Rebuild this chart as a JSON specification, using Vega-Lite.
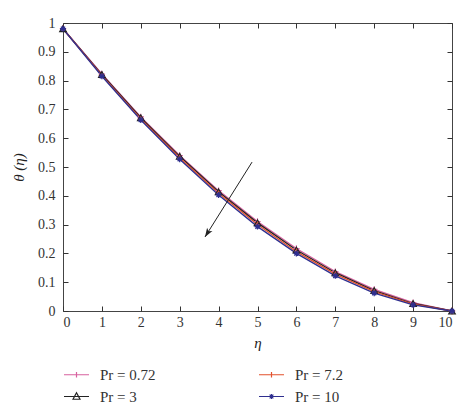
{
  "$schema": "https://vega.github.io/schema/vega-lite/v6.json",
  "autosize": "none",
  "width": 389,
  "height": 288,
  "padding": {"left": 63, "top": 23, "right": 22, "bottom": 106},
  "background": "white",
  "config": {
    "view": {"stroke": "#444444", "strokeWidth": 1},
    "axis": {
      "labelFont": "Liberation Serif",
      "labelFontSize": 14,
      "labelColor": "#333333",
      "titleFont": "Liberation Serif",
      "titleFontSize": 15,
      "titleFontWeight": "normal",
      "titleFontStyle": "italic",
      "titleColor": "#222222",
      "grid": false
    }
  },
  "datasets": {
    "curves": [
      {"eta": 0, "theta": 0.98, "Pr": "0.72"},
      {"eta": 1, "theta": 0.823, "Pr": "0.72"},
      {"eta": 2, "theta": 0.674, "Pr": "0.72"},
      {"eta": 3, "theta": 0.540, "Pr": "0.72"},
      {"eta": 4, "theta": 0.418, "Pr": "0.72"},
      {"eta": 5, "theta": 0.311, "Pr": "0.72"},
      {"eta": 6, "theta": 0.217, "Pr": "0.72"},
      {"eta": 7, "theta": 0.137, "Pr": "0.72"},
      {"eta": 8, "theta": 0.075, "Pr": "0.72"},
      {"eta": 9, "theta": 0.029, "Pr": "0.72"},
      {"eta": 10, "theta": 0.0, "Pr": "0.72"},
      {"eta": 0, "theta": 0.98, "Pr": "3"},
      {"eta": 1, "theta": 0.821, "Pr": "3"},
      {"eta": 2, "theta": 0.671, "Pr": "3"},
      {"eta": 3, "theta": 0.537, "Pr": "3"},
      {"eta": 4, "theta": 0.414, "Pr": "3"},
      {"eta": 5, "theta": 0.306, "Pr": "3"},
      {"eta": 6, "theta": 0.212, "Pr": "3"},
      {"eta": 7, "theta": 0.133, "Pr": "3"},
      {"eta": 8, "theta": 0.071, "Pr": "3"},
      {"eta": 9, "theta": 0.026, "Pr": "3"},
      {"eta": 10, "theta": 0.0, "Pr": "3"},
      {"eta": 0, "theta": 0.98, "Pr": "7.2"},
      {"eta": 1, "theta": 0.818, "Pr": "7.2"},
      {"eta": 2, "theta": 0.667, "Pr": "7.2"},
      {"eta": 3, "theta": 0.532, "Pr": "7.2"},
      {"eta": 4, "theta": 0.409, "Pr": "7.2"},
      {"eta": 5, "theta": 0.300, "Pr": "7.2"},
      {"eta": 6, "theta": 0.206, "Pr": "7.2"},
      {"eta": 7, "theta": 0.128, "Pr": "7.2"},
      {"eta": 8, "theta": 0.067, "Pr": "7.2"},
      {"eta": 9, "theta": 0.024, "Pr": "7.2"},
      {"eta": 10, "theta": 0.0, "Pr": "7.2"},
      {"eta": 0, "theta": 0.98, "Pr": "10"},
      {"eta": 1, "theta": 0.815, "Pr": "10"},
      {"eta": 2, "theta": 0.663, "Pr": "10"},
      {"eta": 3, "theta": 0.527, "Pr": "10"},
      {"eta": 4, "theta": 0.403, "Pr": "10"},
      {"eta": 5, "theta": 0.293, "Pr": "10"},
      {"eta": 6, "theta": 0.200, "Pr": "10"},
      {"eta": 7, "theta": 0.122, "Pr": "10"},
      {"eta": 8, "theta": 0.062, "Pr": "10"},
      {"eta": 9, "theta": 0.021, "Pr": "10"},
      {"eta": 10, "theta": 0.0, "Pr": "10"}
    ],
    "arrow": [
      {"x1": 4.86, "y1": 0.517, "x2": 3.65, "y2": 0.257}
    ]
  },
  "layer": [
    {
      "data": {"name": "curves"},
      "mark": {"type": "line", "strokeWidth": 1.3},
      "encoding": {
        "x": {
          "field": "eta", "type": "quantitative",
          "scale": {"domain": [0, 10], "nice": false},
          "axis": {"orient": "bottom", "title": "η", "values": [0,1,2,3,4,5,6,7,8,9,10], "domain": false, "ticks": true, "tickSize": 5, "tickWidth": 1, "tickColor": "#333333", "offset": -5, "labelPadding": 4, "titlePadding": 6}
        },
        "y": {
          "field": "theta", "type": "quantitative",
          "scale": {"domain": [0, 1], "nice": false},
          "axis": {"orient": "left", "title": "θ (η)", "values": [0,0.1,0.2,0.3,0.4,0.5,0.6,0.7,0.8,0.9,1], "format": "~g", "domain": false, "ticks": true, "tickSize": 5, "tickWidth": 1, "tickColor": "#333333", "offset": -5, "labelPadding": 8, "titlePadding": 11}
        },
        "color": {
          "field": "Pr", "type": "nominal",
          "scale": {"domain": ["0.72", "3", "7.2", "10"], "range": ["#d8619f", "#222222", "#e2512d", "#2f2f8f"]},
          "legend": {
            "orient": "none",
            "legendX": 0,
            "legendY": 338,
            "columns": 2,
            "title": null,
            "columnPadding": 100,
            "rowPadding": -2,
            "padding": 0,
            "symbolSize": 625,
            "symbolStrokeWidth": 1.2,
            "symbolOpacity": 1,
            "labelFont": "Liberation Serif",
            "labelFontSize": 15,
            "labelColor": "#333333",
            "labelOffset": 10,
            "labelExpr": "'Pr = ' + datum.label"
          }
        }
      }
    },
    {
      "data": {"name": "curves"},
      "transform": [{"filter": "datum.Pr == '0.72'"}],
      "mark": {"type": "point", "filled": false, "strokeWidth": 1.1, "opacity": 1, "shape": "M-1,0H1M0,-1V1", "size": 40, "color": "#d8619f"},
      "encoding": {
        "x": {
          "field": "eta", "type": "quantitative",
          "scale": {"domain": [0, 10], "nice": false},
          "axis": {"orient": "top", "title": null, "labels": false, "values": [0,1,2,3,4,5,6,7,8,9,10], "domain": false, "ticks": true, "tickSize": 5, "tickWidth": 1, "tickColor": "#333333", "offset": -5}
        },
        "y": {
          "field": "theta", "type": "quantitative",
          "scale": {"domain": [0, 1], "nice": false},
          "axis": {"orient": "right", "title": null, "labels": false, "values": [0,0.1,0.2,0.3,0.4,0.5,0.6,0.7,0.8,0.9,1], "domain": false, "ticks": true, "tickSize": 5, "tickWidth": 1, "tickColor": "#333333", "offset": -5}
        }
      }
    },
    {
      "data": {"name": "curves"},
      "transform": [{"filter": "datum.Pr == '7.2'"}],
      "mark": {"type": "point", "filled": false, "strokeWidth": 1.1, "opacity": 1, "shape": "M-1,0H1M0,-1V1", "size": 40, "color": "#e2512d"},
      "encoding": {
        "x": {"field": "eta", "type": "quantitative", "scale": {"domain": [0, 10], "nice": false}, "axis": null},
        "y": {"field": "theta", "type": "quantitative", "scale": {"domain": [0, 1], "nice": false}, "axis": null}
      }
    },
    {
      "data": {"name": "curves"},
      "transform": [{"filter": "datum.Pr == '3'"}],
      "mark": {"type": "point", "filled": false, "strokeWidth": 1.1, "opacity": 1, "shape": "triangle-up", "size": 45, "color": "#222222"},
      "encoding": {
        "x": {"field": "eta", "type": "quantitative", "scale": {"domain": [0, 10], "nice": false}, "axis": null},
        "y": {"field": "theta", "type": "quantitative", "scale": {"domain": [0, 1], "nice": false}, "axis": null}
      }
    },
    {
      "data": {"name": "curves"},
      "transform": [{"filter": "datum.Pr == '10'"}],
      "mark": {"type": "point", "filled": false, "strokeWidth": 1.3, "opacity": 1, "shape": "M-1,0H1M0,-1V1M-0.7,-0.7L0.7,0.7M-0.7,0.7L0.7,-0.7", "size": 36, "color": "#2f2f8f"},
      "encoding": {
        "x": {"field": "eta", "type": "quantitative", "scale": {"domain": [0, 10], "nice": false}, "axis": null},
        "y": {"field": "theta", "type": "quantitative", "scale": {"domain": [0, 1], "nice": false}, "axis": null}
      }
    },
    {
      "data": {"name": "curves"},
      "transform": [{"filter": "datum.eta == 10"}],
      "mark": {"type": "point", "filled": false, "strokeWidth": 1.2, "opacity": 0},
      "encoding": {
        "x": {"field": "eta", "type": "quantitative", "scale": {"domain": [0, 10], "nice": false}, "axis": null},
        "y": {"field": "theta", "type": "quantitative", "scale": {"domain": [0, 1], "nice": false}, "axis": null},
        "shape": {
          "field": "Pr", "type": "nominal",
          "scale": {"domain": ["0.72", "3", "7.2", "10"], "range": ["M-1,0H1M0,-0.22V0.22", "M-1,0H1M-0.28,0.22L0,-0.3L0.28,0.22Z", "M-1,0H1M0,-0.22V0.22", "M-1,0H1M0,-0.2V0.2M-0.15,-0.15L0.15,0.15M-0.15,0.15L0.15,-0.15"]},
          "legend": {
            "orient": "none",
            "legendX": 0,
            "legendY": 338,
            "columns": 2,
            "title": null,
            "columnPadding": 100,
            "rowPadding": -2,
            "padding": 0,
            "symbolSize": 625,
            "symbolStrokeWidth": 1.2,
            "symbolOpacity": 1,
            "labelFont": "Liberation Serif",
            "labelFontSize": 15,
            "labelColor": "#333333",
            "labelOffset": 10,
            "labelExpr": "'Pr = ' + datum.label"
          }
        }
      }
    },
    {
      "data": {"name": "arrow"},
      "mark": {"type": "rule", "color": "#222222", "strokeWidth": 1},
      "encoding": {
        "x": {"field": "x1", "type": "quantitative", "scale": {"domain": [0, 10], "nice": false}, "axis": null},
        "y": {"field": "y1", "type": "quantitative", "scale": {"domain": [0, 1], "nice": false}, "axis": null},
        "x2": {"field": "x2"},
        "y2": {"field": "y2"}
      }
    },
    {
      "data": {"name": "arrow"},
      "mark": {"type": "point", "filled": true, "color": "#222222", "shape": "M0,0L-0.35,1L0,0.75L0.35,1Z", "size": 324, "angle": 212, "opacity": 1},
      "encoding": {
        "x": {"field": "x2", "type": "quantitative", "scale": {"domain": [0, 10], "nice": false}, "axis": null},
        "y": {"field": "y2", "type": "quantitative", "scale": {"domain": [0, 1], "nice": false}, "axis": null}
      }
    }
  ],
  "resolve": {
    "scale": {"x": "independent", "y": "independent"},
    "axis": {"x": "independent", "y": "independent"}
  }
}
